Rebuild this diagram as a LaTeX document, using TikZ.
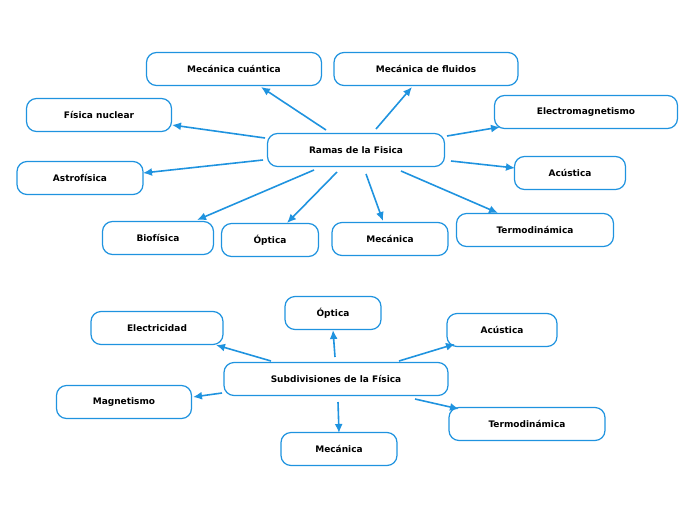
\documentclass[tikz,border=0pt]{standalone}
\usepackage{fontspec}
\setmainfont{DejaVu Sans}
\usetikzlibrary{arrows.meta}
\definecolor{bl}{HTML}{1F93DF}
\tikzset{box/.style={draw=bl,line width=1.2pt,rounded corners=10pt,minimum height=33pt,font=\fontsize{9}{10}\selectfont\bfseries,inner sep=0pt},
arr/.style={draw=bl,line width=1.6pt,-{Latex[length=9pt,width=8pt]},shorten <=4pt,shorten >=3pt}}
\begin{document}
\begin{tikzpicture}[x=1pt,y=-1pt]
\useasboundingbox (0,0) rectangle (696,520);
\node[box,minimum width=177pt] (r) at (356,150) {Ramas de la Fisica};
\node[box,minimum width=175pt] (a) at (234,69) {Mecánica cuántica};
\node[box,minimum width=184pt] (b) at (426,69) {Mecánica de fluidos};
\node[box,minimum width=145pt] (c) at (99,115) {Física nuclear};
\node[box,minimum width=183pt] (d) at (586,112) {Electromagnetismo};
\node[box,minimum width=126pt] (e) at (80,178) {Astrofísica};
\node[box,minimum width=111pt] (f) at (570,173) {Acústica};
\node[box,minimum width=111pt] (g) at (158,238) {Biofísica};
\node[box,minimum width=97pt] (h) at (270,240) {Óptica};
\node[box,minimum width=116pt] (i) at (390,239) {Mecánica};
\node[box,minimum width=157pt] (j) at (535,230) {Termodinámica};
\foreach \t/\s/\e in {a/{326,130}/{261,87},b/{376,129}/{412,87},c/{265,138}/{172,125},d/{447,136}/{500,127},e/{263,160}/{143,173},f/{451,161}/{515,168},g/{314,170}/{197,220},h/{337,172}/{287,223},i/{366,174}/{383,221},j/{401,171}/{498,213}}
  \draw[draw=bl,line width=1.6pt,-{Latex[length=9pt,width=8pt]}] (\s) -- (\e);
\node[box,minimum width=224pt] (s) at (336,379) {Subdivisiones de la Física};
\node[box,minimum width=96pt] (k) at (333,313) {Óptica};
\node[box,minimum width=132pt] (l) at (157,328) {Electricidad};
\node[box,minimum width=110pt] (m) at (502,330) {Acústica};
\node[box,minimum width=135pt] (n) at (124,402) {Magnetismo};
\node[box,minimum width=156pt] (o) at (527,424) {Termodinámica};
\node[box,minimum width=116pt] (p) at (339,449) {Mecánica};
\foreach \t/\s/\e in {k/{335,357}/{333,330},l/{271,361}/{216,345},m/{399,361}/{455,344},n/{222,393}/{193,397},o/{415,399}/{459,409},p/{338,402}/{339,433}}
  \draw[draw=bl,line width=1.6pt,-{Latex[length=9pt,width=8pt]}] (\s) -- (\e);
\end{tikzpicture}
\end{document}
